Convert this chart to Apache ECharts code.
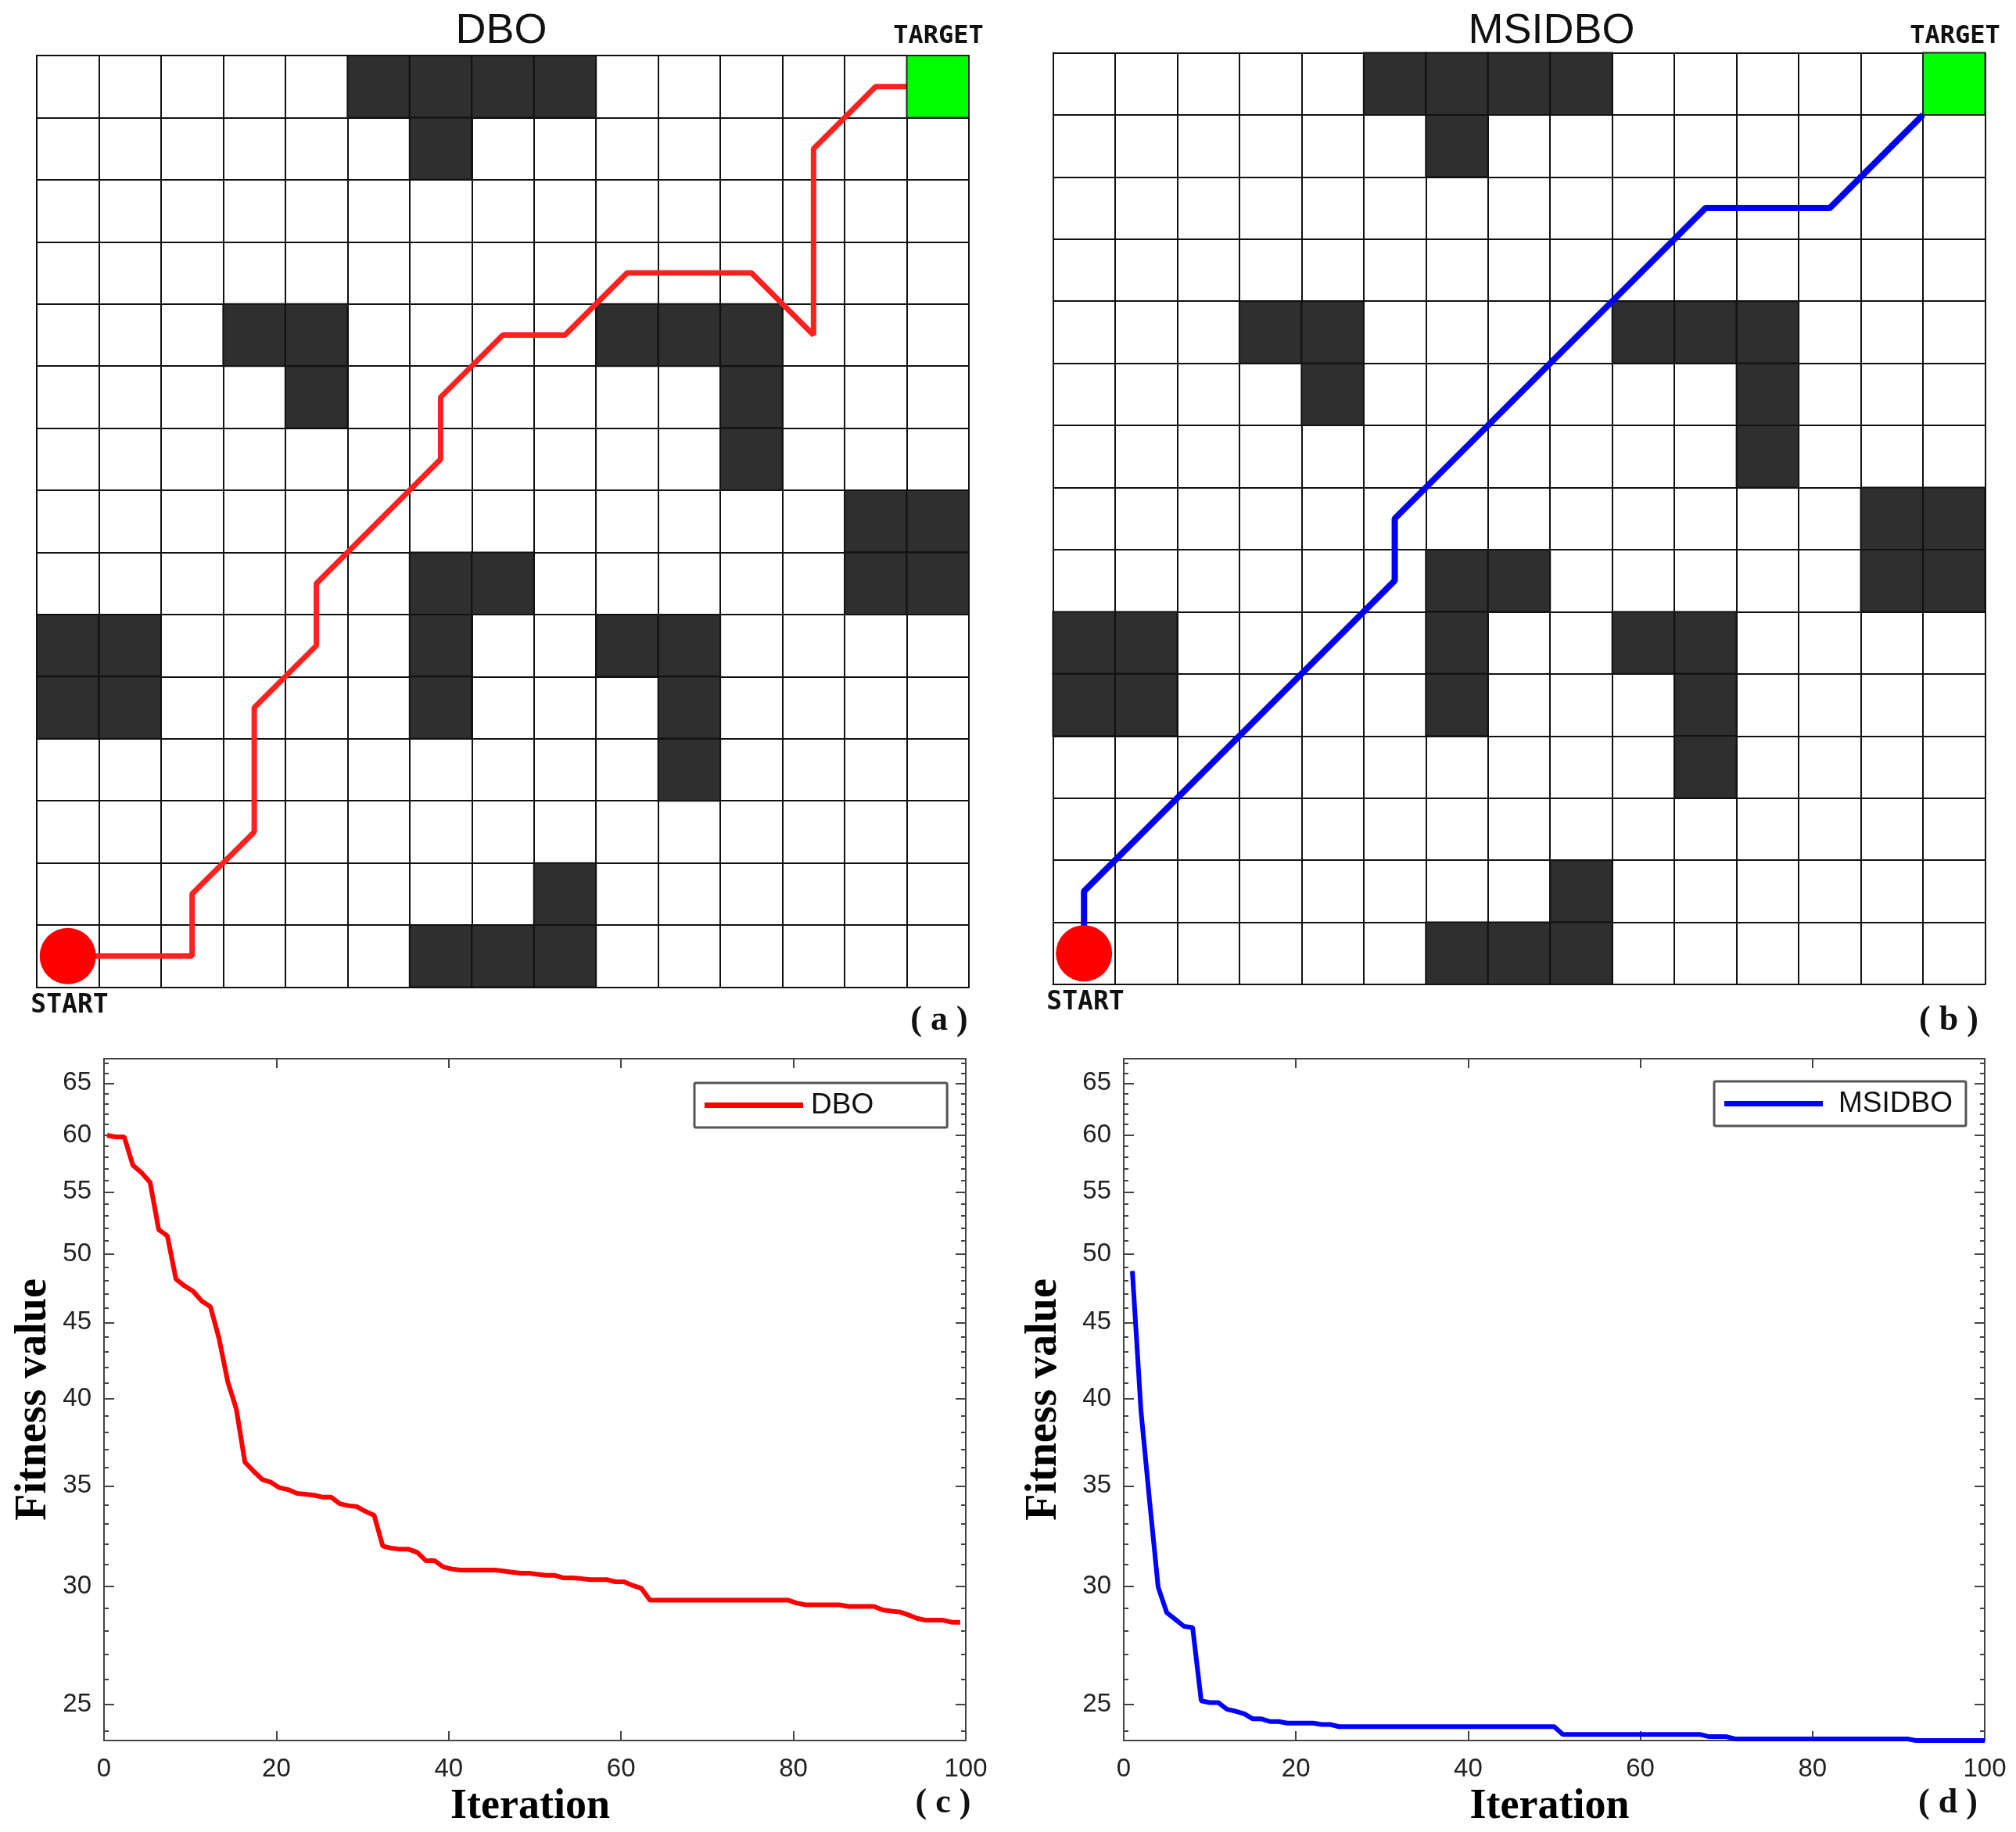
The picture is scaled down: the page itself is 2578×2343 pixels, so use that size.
<!DOCTYPE html>
<html>
<head>
<meta charset="utf-8">
<style>
  html, body {margin: 0; padding: 0; background: #fff;}
  #main {width: 2578px; height: 2343px;}
</style>
<script src="https://cdn.jsdelivr.net/npm/echarts@6/dist/echarts.min.js"></script>
</head>
<body>
<div id="main"></div>
<script>
  // obstacle cells as [col, row], row counted from the bottom of the map
  var obstacles = [
    [5, 14], [6, 14], [7, 14], [8, 14], [6, 13],
    [3, 10], [4, 10], [9, 10], [10, 10], [11, 10], [4, 9], [11, 9], [11, 8],
    [13, 7], [14, 7], [6, 6], [7, 6], [13, 6], [14, 6],
    [0, 5], [1, 5], [6, 5], [9, 5], [10, 5], [0, 4], [1, 4], [6, 4], [10, 4], [10, 3],
    [8, 1], [6, 0], [7, 0], [8, 0]
  ];
  var targetCell = [[14, 14]];
  var startPoint = [[0.5, 0.5]];
  var dboPath = [
    [0.5, 0.5], [2.5, 0.5], [2.5, 1.5], [3.5, 2.5], [3.5, 4.5], [4.5, 5.5], [4.5, 6.5], [6.5, 8.5],
    [6.5, 9.5], [7.5, 10.5], [8.5, 10.5], [9.5, 11.5], [11.5, 11.5], [12.5, 10.5], [12.5, 13.5],
    [13.5, 14.5], [14, 14.5]
  ];
  var msidboPath = [
    [0.5, 0.5], [0.5, 1.5], [5.5, 6.5], [5.5, 7.5], [10.5, 12.5], [12.5, 12.5], [14, 14]
  ];

  // fitness curves
  var dboFitness = [
    60, 59.85, 59.85, 57.3, 56.65, 55.8, 51.9, 51.4, 48.1, 47.6,
    47.2, 46.5, 46.1, 43.9, 41.1, 39.4, 36.3, 35.8, 35.35, 35.2,
    34.9, 34.8, 34.6, 34.55, 34.5, 34.4, 34.4, 34.05, 33.95, 33.9,
    33.65, 33.45, 31.9, 31.8, 31.75, 31.75, 31.6, 31.2, 31.2, 30.9,
    30.8, 30.75, 30.75, 30.75, 30.75, 30.75, 30.7, 30.65, 30.6, 30.6,
    30.55, 30.5, 30.5, 30.38, 30.38, 30.35, 30.3, 30.3, 30.3, 30.2,
    30.2, 30.03, 29.9, 29.36, 29.36, 29.36, 29.36, 29.36, 29.36, 29.36,
    29.36, 29.36, 29.36, 29.36, 29.36, 29.36, 29.36, 29.36, 29.36, 29.36,
    29.23, 29.15, 29.15, 29.15, 29.15, 29.15, 29.08, 29.08, 29.08, 29.08,
    28.92, 28.87, 28.83, 28.7, 28.55, 28.47, 28.47, 28.47, 28.38, 28.38
  ];
  var msidboFitness = [
    48.7, 39.3, 34.2, 29.95, 28.8, 28.5, 28.2, 28.15, 25.15, 25.08,
    25.08, 24.82, 24.75, 24.65, 24.46, 24.46, 24.36, 24.36, 24.3, 24.3,
    24.3, 24.3, 24.25, 24.25, 24.17, 24.17, 24.17, 24.17, 24.17, 24.17,
    24.17, 24.17, 24.17, 24.17, 24.17, 24.17, 24.17, 24.17, 24.17, 24.17,
    24.17, 24.17, 24.17, 24.17, 24.17, 24.17, 24.17, 24.17, 24.17, 24.17,
    23.88, 23.88, 23.88, 23.88, 23.88, 23.88, 23.88, 23.88, 23.88, 23.88,
    23.88, 23.88, 23.88, 23.88, 23.88, 23.88, 23.88, 23.8, 23.8, 23.8,
    23.72, 23.72, 23.72, 23.72, 23.72, 23.72, 23.72, 23.72, 23.72, 23.72,
    23.72, 23.72, 23.72, 23.72, 23.72, 23.72, 23.72, 23.72, 23.72, 23.72,
    23.72, 23.66, 23.66, 23.66, 23.66, 23.66, 23.66, 23.66, 23.66, 23.66
  ];
  var majorTicks = [25, 30, 35, 40, 45, 50, 55, 60, 65];
  var minorTicks = [24, 26, 27, 28, 29, 31, 32, 33, 34, 36, 37, 38, 39, 41, 42, 43, 44, 46, 47, 48, 49,
    51, 52, 53, 54, 56, 57, 58, 59, 61, 62, 63, 64, 66, 67];

  var axisColor = '#444';
  var sans = '"Liberation Sans"';
  var serif = '"Liberation Serif"';
  var mono = '"DejaVu Sans Mono"';

  var grids = [
    {left: 47, top: 71, width: 1192, height: 1191.5},
    {left: 1346.5, top: 67.5, width: 1192, height: 1191.5},
    {left: 133, top: 1354, width: 1102, height: 872},
    {left: 1437, top: 1354, width: 1101, height: 872}
  ];
  var xAxes = [], yAxes = [], series = [];

  function cellItem(color, stroke) {
    return function (params, api) {
      var a = api.coord([api.value(0), api.value(1) + 1]);
      var b = api.coord([api.value(0) + 1, api.value(1)]);
      return {
        type: 'rect',
        shape: {x: a[0], y: a[1], width: b[0] - a[0], height: b[1] - a[1]},
        style: {fill: color, stroke: stroke, lineWidth: 2}
      };
    };
  }

  function addMap(gridIndex, path, pathColor, pathWidth, name) {
    var cellAxis = function () {
      return {
        type: 'value', gridIndex: gridIndex, min: 0, max: 15, interval: 1,
        axisLine: {show: true, lineStyle: {color: '#111', width: 2}},
        axisTick: {show: false},
        axisLabel: {show: false},
        splitLine: {show: true, lineStyle: {color: '#111', width: 2}}
      };
    };
    xAxes.push(cellAxis());
    var idx = yAxes.length;
    yAxes.push(cellAxis());
    var xIdx = xAxes.length - 1;
    series.push({
      type: 'custom', name: name + ' obstacles', xAxisIndex: xIdx, yAxisIndex: idx, z: 2,
      renderItem: cellItem('#2f2f2f', '#111'), encode: {x: 0, y: 1}, data: obstacles
    });
    series.push({
      type: 'line', name: name + ' path', xAxisIndex: xIdx, yAxisIndex: idx, z: 3,
      showSymbol: false, color: pathColor,
      lineStyle: {color: pathColor, width: pathWidth}, data: path
    });
    series.push({
      type: 'custom', name: name + ' target', xAxisIndex: xIdx, yAxisIndex: idx, z: 4,
      renderItem: cellItem('#00ff00', '#222'), encode: {x: 0, y: 1}, data: targetCell
    });
    series.push({
      type: 'scatter', name: name + ' start', xAxisIndex: xIdx, yAxisIndex: idx, z: 5,
      symbolSize: 72, itemStyle: {color: '#ff0000', opacity: 1}, data: startPoint
    });
  }

  function addCurve(gridIndex, name, color, lineWidth, data, nameGap) {
    var xIdx = xAxes.length;
    var xBase = {
      type: 'value', gridIndex: gridIndex, min: 0, max: 100, interval: 20,
      splitLine: {show: false},
      axisLine: {show: true, onZero: false, lineStyle: {color: axisColor, width: 2}},
      axisTick: {show: true, inside: true, length: 12, lineStyle: {color: axisColor, width: 2}}
    };
    xAxes.push(Object.assign({}, xBase, {
      position: 'bottom',
      name: 'Iteration', nameLocation: 'middle', nameGap: 58,
      nameTextStyle: {fontFamily: serif, fontWeight: 'bold', fontSize: 54, color: '#000', padding: [0, 12, 0, 0]},
      axisLabel: {show: true, fontFamily: sans, fontSize: 33, color: '#222', margin: 20}
    }));
    xAxes.push(Object.assign({}, xBase, {position: 'top', axisLabel: {show: false}}));

    var yIdx = yAxes.length;
    var yAxis = function (position, values, len, extra) {
      return Object.assign({
        type: 'log', logBase: 10, gridIndex: gridIndex, position: position, min: 23.66, max: 67.5,
        splitLine: {show: false}, minorTick: {show: false}, minorSplitLine: {show: false},
        axisLine: {show: true, onZero: false, lineStyle: {color: axisColor, width: 2}},
        axisTick: {show: true, inside: true, length: len, customValues: values, lineStyle: {color: axisColor, width: 2}},
        axisLabel: {show: false}
      }, extra);
    };
    yAxes.push(yAxis('left', majorTicks, 13, {
      name: 'Fitness value', nameLocation: 'middle', nameGap: nameGap, nameRotate: 90,
      nameTextStyle: {fontFamily: serif, fontWeight: 'bold', fontSize: 56, color: '#000'},
      axisLabel: {
        show: true, customValues: majorTicks, fontFamily: sans, fontSize: 33, color: '#222', margin: 16,
        padding: [10, 0, 0, 0]
      }
    }));
    yAxes.push(yAxis('left', minorTicks, 6));
    yAxes.push(yAxis('right', majorTicks, 13));
    yAxes.push(yAxis('right', minorTicks, 6));

    series.push({
      type: 'line', name: name, xAxisIndex: xIdx, yAxisIndex: yIdx, z: 3,
      showSymbol: false, clip: false, color: color,
      lineStyle: {color: color, width: lineWidth}, data: data
    });
  }

  function textItem(text, x, y, font, color) {
    return {
      type: 'text', x: x, y: y, silent: true,
      style: {text: text, font: font, fill: color || '#111', textAlign: 'center', textVerticalAlign: 'middle'}
    };
  }

  addMap(0, dboPath, '#ff2020', 7, 'DBO');
  addMap(1, msidboPath, '#0000ee', 8, 'MSIDBO');
  addCurve(2, 'DBO', '#ff0000', 6, dboFitness.map(function (v, i) { return [i + 0.35, v]; }), 61);
  addCurve(3, 'MSIDBO', '#0000ff', 6, msidboFitness.map(function (v, i) { return [i + 1, v]; }), 73);

  var legendBase = {
    orient: 'vertical', icon: 'rect', itemWidth: 126, itemHeight: 7, borderWidth: 3,
    borderColor: '#555', borderRadius: 2, backgroundColor: '#fff'
  };
  var legendText = {fontFamily: sans, fontSize: 37, color: '#111'};

  var chart = echarts.init(document.getElementById('main'));
  chart.setOption({
    animation: false,
    backgroundColor: '#fff',
    grid: grids,
    xAxis: xAxes,
    yAxis: yAxes,
    series: series,
    legend: [
      Object.assign({}, legendBase, {
        left: 888, top: 1385, padding: [10, 94, 10, 13], data: ['DBO'],
        textStyle: Object.assign({padding: [10, 0, 0, 5]}, legendText)
      }),
      Object.assign({}, legendBase, {
        left: 2192, top: 1383, padding: [10, 17, 10, 13], data: ['MSIDBO'],
        textStyle: Object.assign({padding: [6, 0, 0, 15]}, legendText)
      })
    ],
    graphic: [
      textItem('DBO', 641, 40, '54px ' + sans),
      textItem('MSIDBO', 1984, 40, '54px ' + sans),
      textItem('START', 89, 1286, 'bold 33px ' + mono),
      textItem('TARGET', 1200, 47, 'bold 32px ' + mono),
      textItem('START', 1388, 1282, 'bold 33px ' + mono),
      textItem('TARGET', 2500, 47, 'bold 32px ' + mono),
      textItem('( a )', 1201, 1306, 'bold 44px ' + serif),
      textItem('( b )', 2492, 1306, 'bold 44px ' + serif),
      textItem('( c )', 1206, 2307, 'bold 44px ' + serif),
      textItem('( d )', 2491, 2307, 'bold 44px ' + serif)
    ]
  });
  window.onresize = chart.resize;
</script>
</body>
</html>
